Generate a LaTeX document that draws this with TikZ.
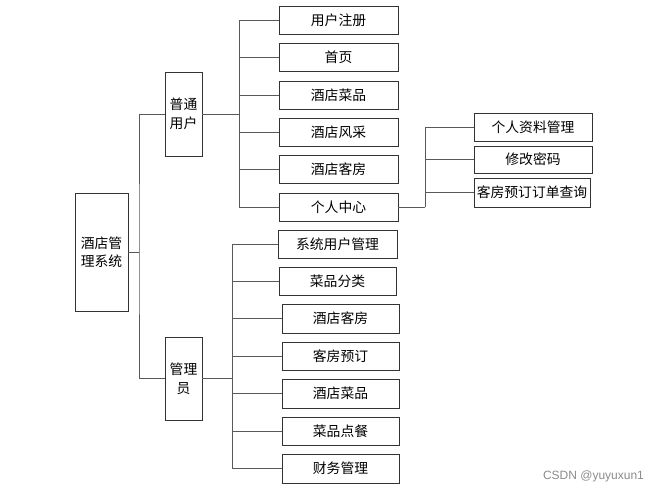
\documentclass[tikz,border=0pt]{standalone}
\usepackage{fontspec}
\newfontfamily\cjk{Noto Sans CJK SC}
\newfontfamily\wmfont{Liberation Sans}
\begin{document}
\begin{tikzpicture}[x=1pt,y=-1pt,
  box/.style={draw=black!80, line width=0.9pt, fill=white, inner sep=0pt,
    font=\cjk\fontsize{13.8}{18.5}\selectfont, align=center},
  conn/.style={draw=black!65, line width=0.9pt}]
\useasboundingbox (0,0) rectangle (670,491);
\fill[white] (0,0) rectangle (670,491);
% root and level 1
\node[box, minimum width=53pt, minimum height=118pt] (root) at (101.5,252) {酒店管\\理系统};
\node[box, minimum width=37pt, minimum height=84pt] (user) at (183.5,114) {普通\\用户};
\node[box, minimum width=37pt, minimum height=83pt] (admin) at (183.5,378.5) {管理\\员};
% user children
\node[box, minimum width=119pt, minimum height=28pt] (u1) at (338.5,20.5) {用户注册};
\node[box, minimum width=119pt, minimum height=28pt] (u2) at (338.5,57.5) {首页};
\node[box, minimum width=119pt, minimum height=28pt] (u3) at (338.5,95.5) {酒店菜品};
\node[box, minimum width=119pt, minimum height=28pt] (u4) at (338.5,132.5) {酒店风采};
\node[box, minimum width=119pt, minimum height=28pt] (u5) at (338.5,169.5) {酒店客房};
\node[box, minimum width=119pt, minimum height=28pt] (u6) at (338.5,207) {个人中心};
% personal center children
\node[box, minimum width=118pt, minimum height=28pt] (p1) at (533,127) {个人资料管理};
\node[box, minimum width=118pt, minimum height=27pt] (p2) at (533,159.5) {修改密码};
\node[box, minimum width=116pt, minimum height=29pt] (p3) at (532,192.5) {客房预订订单查询};
% admin children
\node[box, minimum width=119pt, minimum height=28pt] (a1) at (337.5,244) {系统用户管理};
\node[box, minimum width=117pt, minimum height=28pt] (a2) at (337.5,281) {菜品分类};
\node[box, minimum width=117pt, minimum height=29pt] (a3) at (340.5,318.5) {酒店客房};
\node[box, minimum width=117pt, minimum height=28pt] (a4) at (340.5,356) {客房预订};
\node[box, minimum width=117pt, minimum height=29pt] (a5) at (340.5,393.5) {酒店菜品};
\node[box, minimum width=117pt, minimum height=28pt] (a6) at (340.5,431) {菜品点餐};
\node[box, minimum width=117pt, minimum height=29pt] (a7) at (340.5,468.5) {财务管理};
% junctions
\coordinate (j1) at (139,252);
\coordinate (j2) at (239,114);
\coordinate (j3) at (232,378.5);
\coordinate (j4) at (425,207);
% connectors
\draw[conn] (root.east) -- (j1);
\draw[conn] (user.west) -| (j1) |- (admin.west);
\draw[conn] (user.east) -- (j2);
\foreach \n in {u1,u2,u3,u4,u5,u6} \draw[conn] (j2) |- (\n.west);
\draw[conn] (admin.east) -- (j3);
\foreach \n in {a1,a2,a3,a4,a5,a6,a7} \draw[conn] (j3) |- (\n.west);
\draw[conn] (u6.east) -- (j4);
\foreach \n in {p1,p2,p3} \draw[conn] (j4) |- (\n.west);
% watermark
\node[text=black!45, font=\wmfont\fontsize{12}{14}\selectfont, inner sep=0pt] (wm) at (593.5,476) {CSDN @yuyuxun1};
\end{tikzpicture}
\end{document}
